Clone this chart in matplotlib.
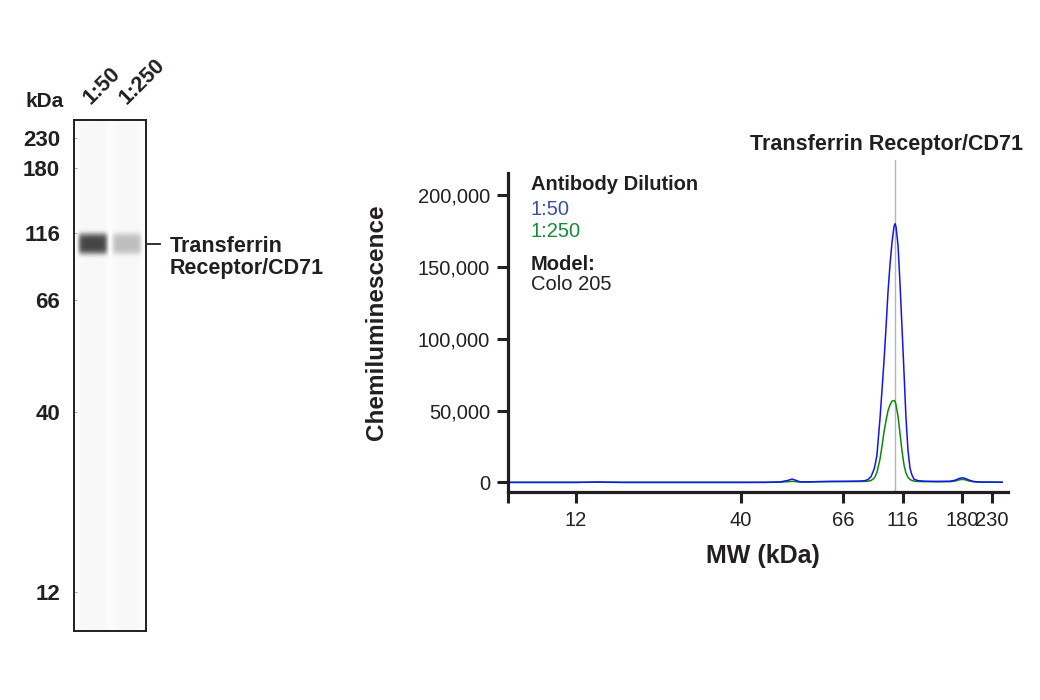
import numpy as np
import matplotlib
matplotlib.use("Agg")
import matplotlib.pyplot as plt
from matplotlib.lines import Line2D

plt.rcParams['font.family'] = ['Liberation Sans', 'DejaVu Sans']
INK = '#231f20'

# ---- data ----
lanes = ['1:50', '1:250']
ladder_kda = [230, 180, 116, 66, 40, 12]
band_kda = 106
band_signal = [0.70, 0.23]          # darkness of the band in each lane
target_kda = 108
target_name = 'Transferrin Receptor/CD71'

mw_kda = [7.25, 10, 12, 14, 15, 17, 25, 35, 40, 45, 48.5, 50.4, 51.4, 52.4, 53.4,
          55, 58, 62, 66, 72, 77.4, 81.2, 83.5, 85.9, 88.3, 89.2, 90.8, 93.4,
          95.2, 97.0, 98.9, 100.8, 102.7, 104.6, 106.6, 107.6, 108.6, 110.7,
          112.8, 114.9, 116.9, 118.6, 120.4, 122.2, 123.8, 125.9, 129.7, 136.6,
          150, 164.6, 170.9, 176.0, 180, 184.5, 190.6, 197, 205, 230, 250]
chemi_150 = [0, 0, 0, 250, 150, 0, 0, 0, 0, 50, 300, 1400, 2300, 1400, 400,
             300, 500, 700, 700, 800, 900, 1200, 2000, 4000, 9000, 12000, 19000, 44000,
             64000, 84000, 108000, 133000, 152000, 167000, 178000, 180000, 178000, 165000,
             138000, 108000, 76000, 45000, 22000, 10000, 5500, 2200, 1200, 800,
             700, 800, 1500, 2700, 3200, 2800, 1600, 700, 300, 200, 100]
chemi_1250 = [0, 0, 0, 100, 50, 0, 0, 0, 0, 0, 150, 500, 700, 500, 200,
              200, 400, 500, 600, 600, 650, 700, 800, 1300, 2800, 4000, 7000, 16000,
              25000, 35000, 43000, 50000, 54000, 56500, 57000, 56500, 54000, 46000,
              34000, 22000, 12000, 6500, 3500, 2000, 1400, 900, 600, 500,
              400, 500, 900, 1700, 2100, 1800, 1000, 500, 200, 100, 50]

x_ticks_kda = [12, 40, 66, 116, 180, 230]
y_ticks = [0, 50000, 100000, 150000, 200000]


def mw_scale(cal_kda, cal_pos):
    """piecewise log calibration of the capillary MW axis"""
    lk = np.log10(cal_kda)

    def fwd(v):
        v = np.asarray(v, dtype=float)
        return np.interp(np.log10(np.clip(v, 1e-6, None)), lk, cal_pos)

    def inv(p):
        return 10 ** np.interp(p, cal_pos, lk)
    return fwd, inv


W, H = 1040, 700
fig = plt.figure(figsize=(W / 100, H / 100), dpi=100)


def fx(x):
    return x / W


def fy(y):
    return 1 - y / H


# ---- left: virtual blot ----
blot_fwd, _ = mw_scale([9.25, 12, 40, 66, 116, 180, 230, 266.7],
                       [0, 39, 219, 331, 398, 463, 493, 511])
bx = fig.add_axes([fx(74), fy(631), (146 - 74) / W, (631 - 120) / H])
rows = np.arange(0, 511) + 0.5
cols = np.arange(0, 72) + 0.5
img = np.full((rows.size, cols.size), 0.99)
band_pos = float(blot_fwd(band_kda))
for i, sig in enumerate(band_signal):
    cx = 19 + 34 * i
    hprof = np.exp(-((cols - cx) / 14.5) ** 8)
    vprof = np.exp(-((rows - band_pos) / 10.5) ** 4)
    img -= 0.018 * hprof[None, :]
    img -= sig * vprof[:, None] * hprof[None, :]
bx.imshow(img, cmap='gray', vmin=0, vmax=1, extent=(0, 72, 0, 511), origin='lower',
          aspect='auto', interpolation='bilinear')
bx.set_xlim(0, 72)
bx.set_ylim(0, 511)
bx.set_xticks([])
bx.set_yticks(blot_fwd(ladder_kda))
bx.set_yticklabels([str(k) for k in ladder_kda], fontsize=16, fontweight='bold', color=INK)
bx.tick_params(axis='y', length=2, width=0.6, color='#999999', direction='in', pad=10)
for s in bx.spines.values():
    s.set_linewidth(1.4)
    s.set_color(INK)

fig.text(fx(45), fy(107), 'kDa', ha='center', va='baseline', fontsize=15,
         fontweight='bold', color=INK)
for i, lab in enumerate(lanes):
    fig.text(fx(91 + 36 * i), fy(105), lab, rotation=45, rotation_mode='anchor',
             ha='left', va='baseline', fontsize=15.5, fontweight='bold', color=INK)
bx.add_line(Line2D([73.5, 86], [band_pos, band_pos], color=INK, lw=1.3, clip_on=False))
fig.text(fx(170), fy(252), 'Transferrin', ha='left', va='baseline', fontsize=15.5,
         fontweight='bold', color=INK)
fig.text(fx(170), fy(274), 'Receptor/CD71', ha='left', va='baseline', fontsize=15.5,
         fontweight='bold', color=INK)

# ---- right: electropherogram ----
fwd, inv = mw_scale([7.14, 12, 40, 66, 116, 180, 230, 262.1],
                    [0, 68, 233, 335, 395, 454, 484, 500])
ax = fig.add_axes([fx(508), fy(492), 500 / W, (492 - 173) / H])
ax.set_xscale('function', functions=(fwd, inv))
ax.set_xlim(7.14, 262.1)
ax.set_ylim(-6700, 215300)

ax.plot(mw_kda, chemi_1250, color='#0a8a0a', lw=1.1)
ax.plot(mw_kda, chemi_150, color='#1414f0', lw=1.1)
ax.axvline(target_kda, ymin=0, ymax=(492 - 160) / (492 - 173), color='#b5b5b5',
           lw=1, clip_on=False, zorder=0.5)

for side in ['top', 'right']:
    ax.spines[side].set_visible(False)
for side in ['left', 'bottom']:
    ax.spines[side].set_linewidth(2.3)
    ax.spines[side].set_color(INK)

ax.set_xticks(x_ticks_kda)
ax.set_xticklabels([str(k) for k in x_ticks_kda])
ax.set_xticks([7.14], minor=True)
ax.set_yticks(y_ticks)
ax.set_yticklabels([f'{v:,}' for v in y_ticks])
ax.tick_params(axis='both', which='both', direction='out', length=8, width=2.2,
               color=INK, labelsize=14.5, labelcolor=INK)
ax.tick_params(axis='x', which='both', pad=6)
ax.tick_params(axis='y', pad=5)

fig.text(fx(886), fy(150), target_name, ha='center', va='baseline', fontsize=15.5,
         fontweight='bold', color=INK)
fig.text(fx(376), fy(322), 'Chemiluminescence', rotation=90, ha='center', va='center',
         fontsize=17.5, fontweight='bold', color=INK)
fig.text(fx(763), fy(556), 'MW (kDa)', ha='center', va='center', fontsize=18,
         fontweight='bold', color=INK)

fig.text(fx(531), fy(190), 'Antibody Dilution', ha='left', va='baseline', fontsize=14.5,
         fontweight='bold', color=INK)
fig.text(fx(531), fy(215), lanes[0], ha='left', va='baseline', fontsize=14.5, color='#3a4fa3')
fig.text(fx(531), fy(237), lanes[1], ha='left', va='baseline', fontsize=14.5, color='#178a3c')
fig.text(fx(531), fy(270), 'Model:', ha='left', va='baseline', fontsize=14.5,
         fontweight='bold', color=INK)
fig.text(fx(531), fy(290), 'Colo 205', ha='left', va='baseline', fontsize=14.5, color=INK)

fig.savefig('out.png', dpi=100)
